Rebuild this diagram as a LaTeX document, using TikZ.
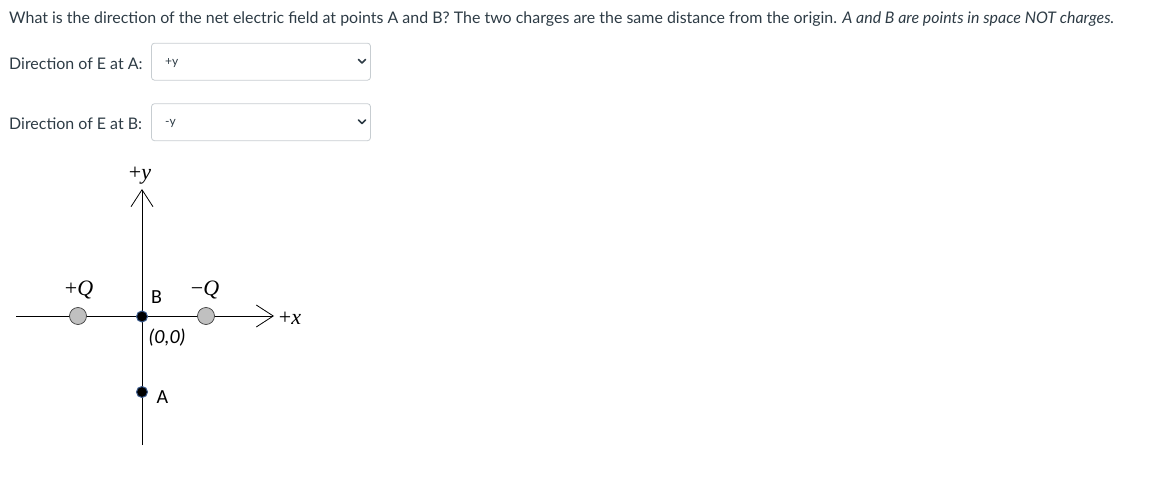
\documentclass[tikz,border=0pt]{standalone}
\usepackage{fontspec}
\setmainfont{Lato}
\newfontfamily\figfont{Carlito}
\newfontfamily\symfont{Liberation Serif}
\usetikzlibrary{arrows.meta}

\definecolor{canvastext}{HTML}{2D3B45}
\definecolor{boxline}{HTML}{C7CDD1}
\definecolor{chargegray}{HTML}{C0C0C0}
\definecolor{pointrim}{HTML}{3A5A8C}

\begin{document}
\begin{tikzpicture}[x=1pt, y=-1pt,
  question/.style={anchor=base west, inner sep=0pt, text=canvastext, font=\fontsize{15.95}{18}\selectfont},
  dirlabel/.style={anchor=base west, inner sep=0pt, text=canvastext, font=\fontsize{15.95}{18}\selectfont},
  dropbox/.style={draw=boxline, rounded corners=3pt, line width=0.8pt, minimum width=219pt, minimum height=37pt, inner sep=0pt},
  droptext/.style={anchor=base west, inner sep=0pt, text=canvastext, font=\fontsize{12}{14}\selectfont},
  chevron/.style={draw=canvastext, line width=1.6pt, line cap=round, line join=round},
  axis/.style={draw=black, line width=0.8pt},
  axistip/.style={-{Straight Barb[length=17pt, width=22pt, line width=0.8pt]}},
  charge/.style={circle, fill=chargegray, draw=black!75, line width=0.7pt, minimum size=17pt, inner sep=0pt},
  spot/.style={circle, fill=black, draw=pointrim, line width=1pt, minimum size=11pt, inner sep=0pt},
  mathlabel/.style={anchor=base, inner sep=0pt, font=\symfont\fontsize{22}{24}\selectfont},
  sanslabel/.style={anchor=base, inner sep=0pt, font=\figfont\fontsize{20}{22}\selectfont}]
\useasboundingbox (0,0) rectangle (1166,478);
\node[question] (question) at (9,24) {What is the direction of the net electric field at points A and B? The two charges are the same distance from the origin. \textit{A and B are points in space NOT charges.}};
\node[dirlabel] (labelA) at (9,70) {Direction of E at A:};
\node[dirlabel] (labelB) at (9,130) {Direction of E at B:};
\node[dropbox] (boxA) at (261,61.7) {};
\node[dropbox] (boxB) at (261,122.2) {};
\node[droptext] (choiceA) at (165,66) {+y};
\node[droptext] (choiceB) at (165,126) {-y};
\draw[chevron] (358.5,59.5) -- (362,63) -- (365.5,59.5);
\draw[chevron] (358.5,120) -- (362,123.5) -- (365.5,120);
\coordinate (xleft) at (16,316);
\coordinate (xtip) at (274,316);
\coordinate (ybottom) at (142,445);
\coordinate (ytip) at (142,189);
\draw[axis, axistip] (ybottom) -- (ytip);
\draw[axis, axistip] (xleft) -- (xtip);
\node[charge] (plusQ) at (78,316) {};
\node[charge] (minusQ) at (206,316) {};
\node[spot] (B) at (142,316.5) {};
\node[spot] (A) at (142,392) {};
\node[mathlabel] (ylabel) at (140,180) {+\textit{y}};
\node[mathlabel] (plusQlabel) at (79,295) {+\textit{Q}};
\node[mathlabel] (minusQlabel) at (205,295) {−\textit{Q}};
\node[mathlabel] (xlabel) at (290,324) {+\textit{x}};
\node[sanslabel] (Blabel) at (156.5,303) {B};
\node[sanslabel] (originlabel) at (167,343) {\itshape (0,0)};
\node[sanslabel] (Alabel) at (162.5,403) {A};
\end{tikzpicture}
\end{document}
